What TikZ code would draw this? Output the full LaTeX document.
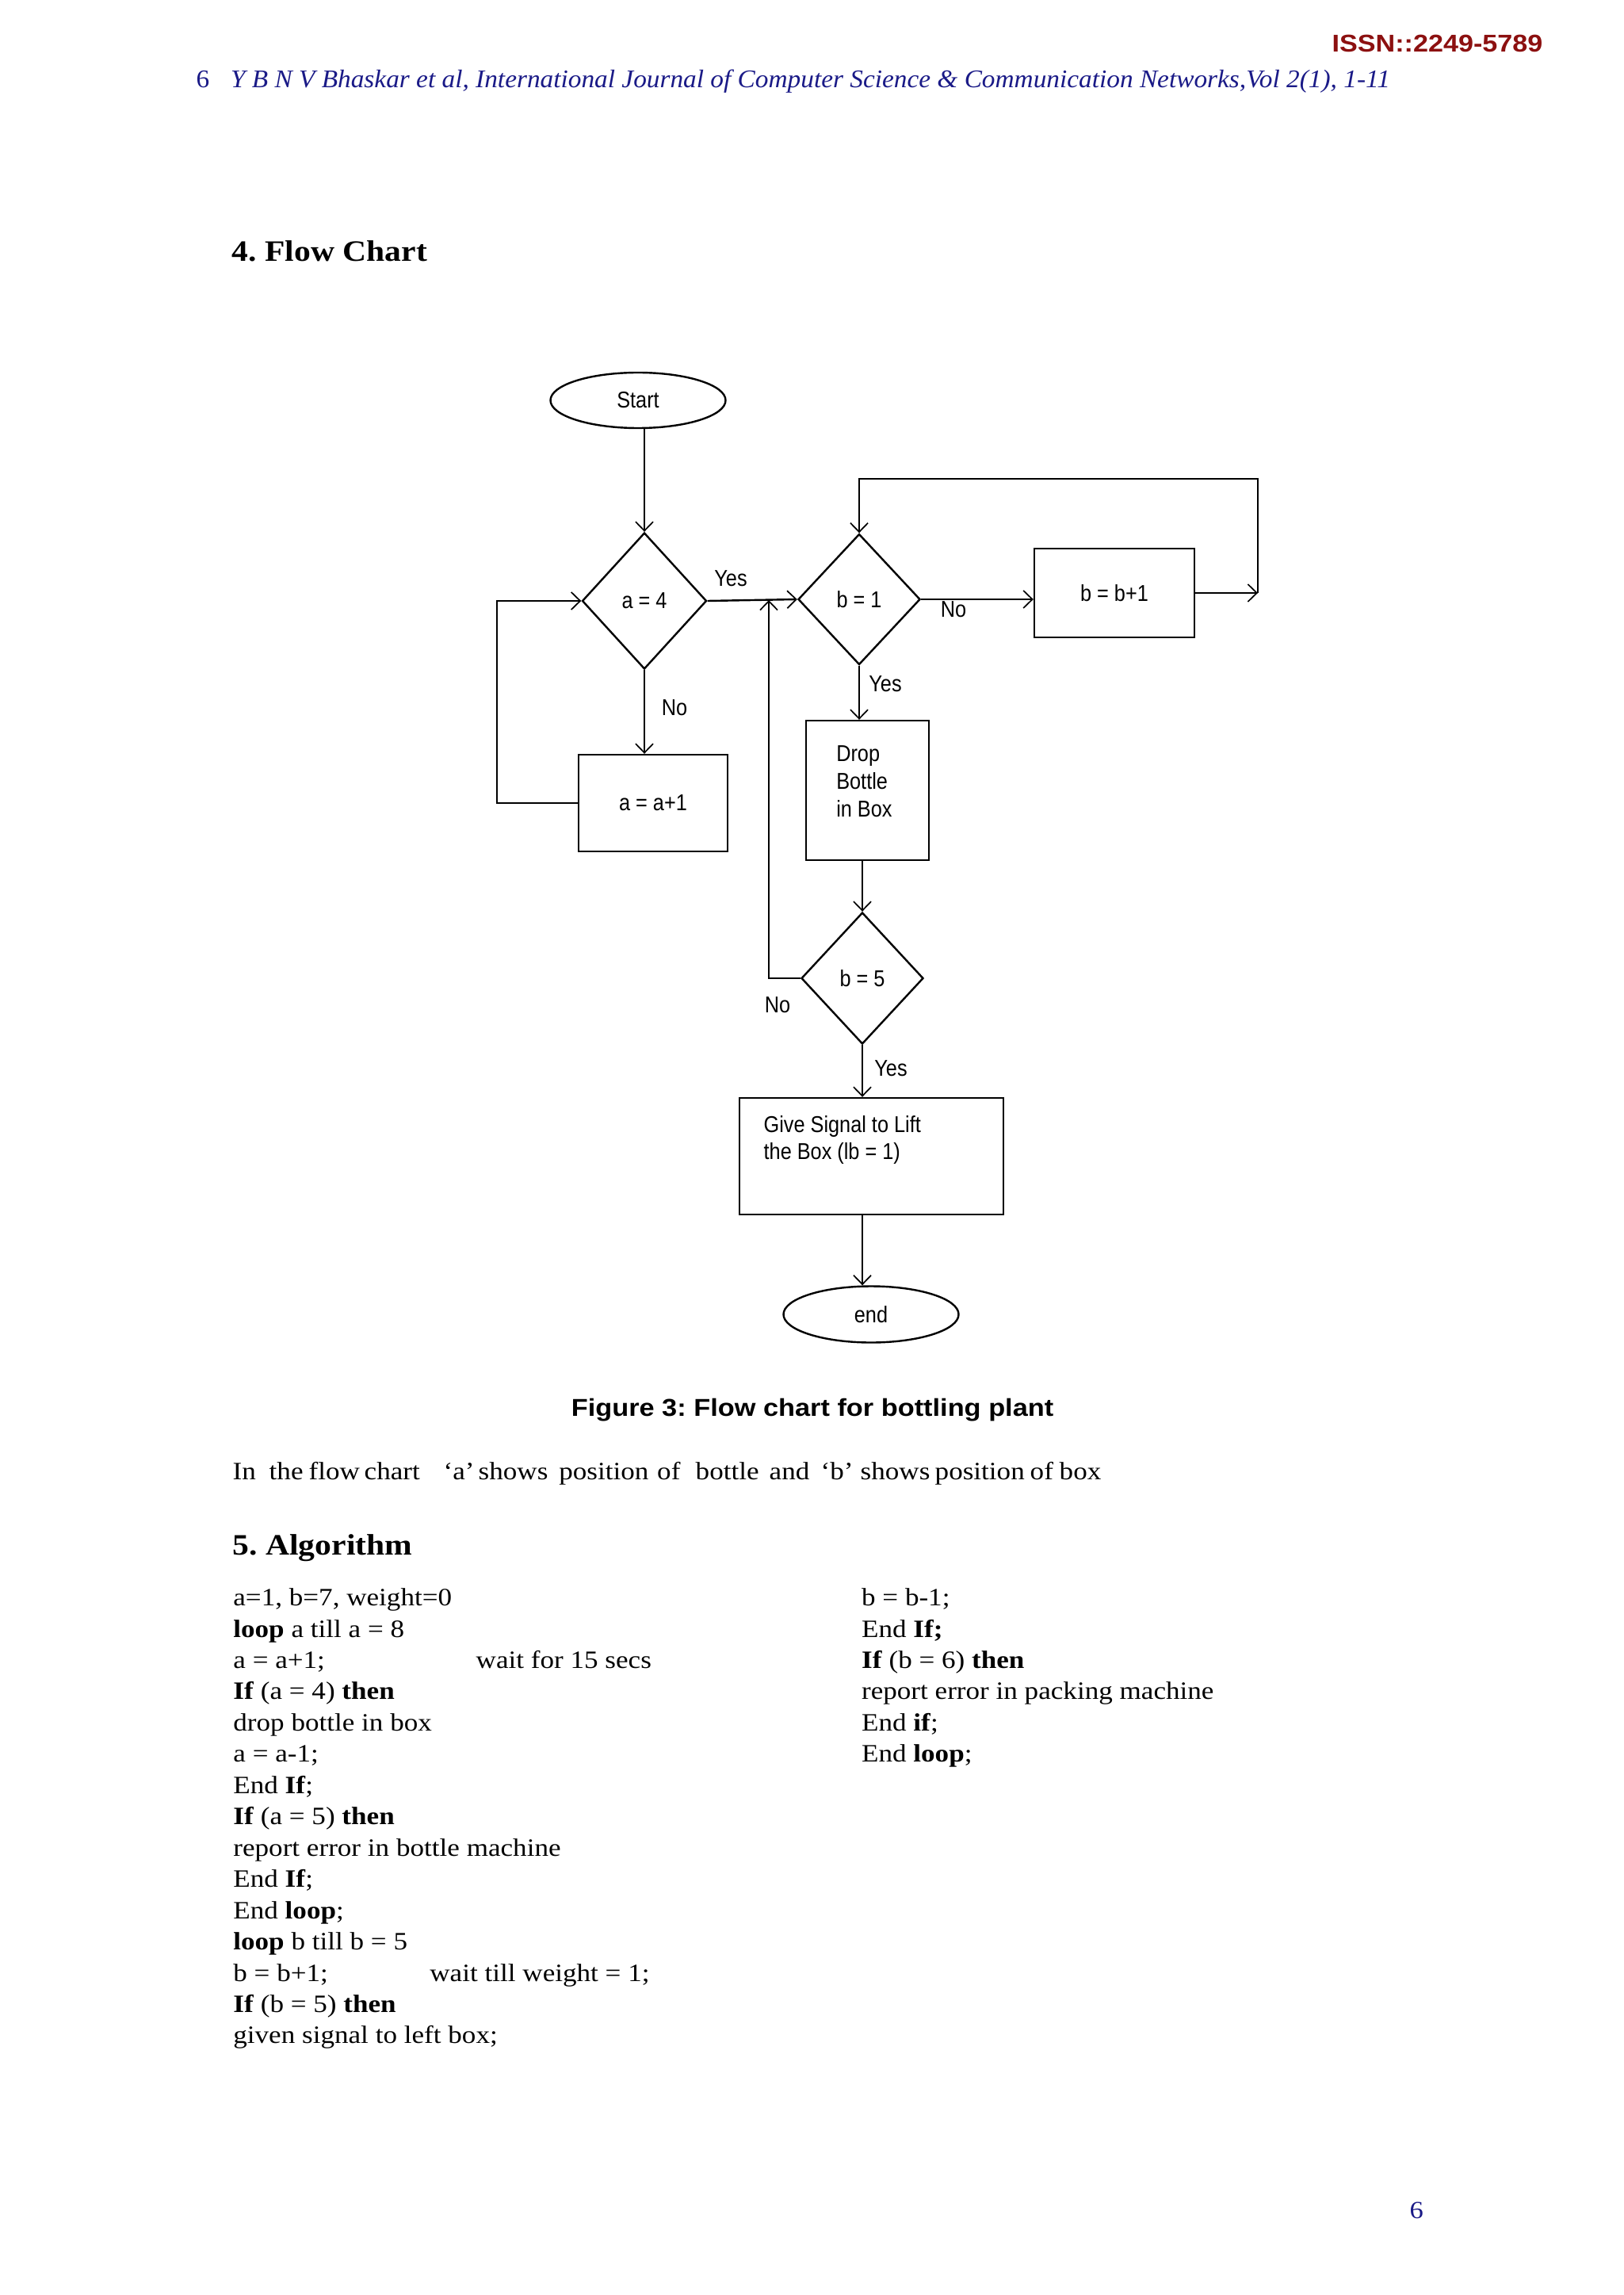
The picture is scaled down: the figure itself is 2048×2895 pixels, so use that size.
\documentclass[tikz,border=0pt]{standalone}
\usepackage{fontspec}
\setmainfont{Liberation Serif}
\setsansfont{Liberation Sans}
\usetikzlibrary{shapes.geometric,arrows.meta}
\definecolor{issnred}{RGB}{140,16,16}
\definecolor{navyblue}{RGB}{26,26,135}
\newcommand{\hs}[1]{\scalebox{1.115}[1]{#1}}
\newcommand{\fs}[1]{\scalebox{0.875}[1]{#1}}
\newcommand{\pu}{0.29068pt}
\frenchspacing
\begin{document}
\begin{tikzpicture}[x=0.29068pt, y=-0.29068pt,
  flow/.style={draw=black, line width=0.7pt, inner sep=0pt, font=\sffamily\fontsize{8.4}{10}\selectfont},
  boxn/.style={flow, rectangle},
  dia/.style={flow, diamond},
  ell/.style={flow, ellipse},
  arr/.style={line width=0.7pt, -{Straight Barb[length=3.3pt,width=6.4pt,line width=0.5pt]}},
  lbl/.style={inner sep=0pt, font=\sffamily\fontsize{8.4}{10}\selectfont},
  ftxt/.style={lbl, anchor=base west},
  body/.style={inner sep=0pt, anchor=base west, font=\fontsize{9.15}{11}\selectfont},
  head/.style={inner sep=0pt, anchor=base west, font=\bfseries\fontsize{10.85}{13}\selectfont},
]
\fill[white] (0,0) rectangle (2048,2895);
\useasboundingbox (0,0) rectangle (2048,2895);

% header
\node[anchor=base east, inner sep=0pt, text=issnred, font=\sffamily\bfseries\fontsize{8.9}{10}\selectfont] (issn) at (1947,66) {\hs{ISSN::2249-5789}};
\node[anchor=base west, inner sep=0pt, text=navyblue, font=\fontsize{9.3}{11}\selectfont] (hdr) at (247,111)
  {\resizebox{437.8pt}{\height}{6\hspace{0.8em}\itshape Y B N V Bhaskar et al, International Journal of Computer Science \& Communication Networks,Vol 2(1), 1-11}};

\node[head] (h4) at (292,330) {\hs{4. Flow Chart}};

% flow chart
\node[ell, minimum width=221*\pu, minimum height=70*\pu] (start) at (805,505) {\fs{Start}};
\node[dia, minimum width=157*\pu, minimum height=172*\pu] (d1) at (813,758) {\fs{a = 4}};
\node[boxn, minimum width=188*\pu, minimum height=122*\pu] (aa) at (824,1013) {\fs{a = a+1}};
\node[dia, minimum width=154*\pu, minimum height=165*\pu] (d2) at (1084,756) {\fs{b = 1}};
\node[boxn, minimum width=202*\pu, minimum height=112*\pu] (bb) at (1406,748) {\fs{b = b+1}};
\node[boxn, minimum width=155*\pu, minimum height=176*\pu] (drop) at (1094.5,997) {};
\node[ftxt] (dropa) at (1054.6,960) {\fs{Drop}};
\node[ftxt] (dropb) at (1054.6,995) {\fs{Bottle}};
\node[ftxt] (dropc) at (1054.6,1030) {\fs{in Box}};
\node[dia, minimum width=154*\pu, minimum height=166*\pu] (d3) at (1088,1234) {\fs{b = 5}};
\node[boxn, minimum width=333*\pu, minimum height=147*\pu] (sig) at (1099.5,1458.5) {};
\node[ftxt] (siga) at (963,1428) {\fs{Give Signal to Lift}};
\node[ftxt] (sigb) at (963,1462) {\fs{the Box (lb = 1)}};
\node[ell, minimum width=221*\pu, minimum height=71*\pu] (stop) at (1099,1658) {\fs{end}};

\coordinate (rc) at (1587,604);
\coordinate (jn) at (970,757);

\draw[arr] (start.south -| d1.north) -- (d1.north);
\draw[arr] (d1.south) -- (d1.south |- aa.north);
\draw[arr] (aa.west) -- ++(-102,0) |- (d1.west);
\draw[arr] (d1.east) -- (d2.west);
\draw[arr] (d2.east) -- (d2.east -| bb.west);
\draw[arr] (bb.east) -- (bb.east -| rc);
\draw[arr] (bb.east -| rc) -- (rc) -| (d2.north);
\draw[arr] (d2.south) -- (d2.south |- drop.north);
\draw[arr] (d3.north |- drop.south) -- (d3.north);
\draw[arr] (d3.west) -| (jn);
\draw[arr] (d3.south) -- (d3.south |- sig.north);
\draw[arr] (d3.south |- sig.south) -- (d3.south |- stop.north);

\node[lbl] (y1) at (922,730) {\fs{Yes}};
\node[lbl] (n1) at (851,893) {\fs{No}};
\node[lbl] (n2) at (1203,769) {\fs{No}};
\node[lbl] (y2) at (1117,863) {\fs{Yes}};
\node[lbl] (n3) at (981,1268) {\fs{No}};
\node[lbl] (y3) at (1124,1348) {\fs{Yes}};

% caption and text
\node[anchor=base, inner sep=0pt, font=\sffamily\bfseries\fontsize{8.95}{11}\selectfont] (cap) at (1025,1786) {\hs{Figure 3: Flow chart for bottling plant}};
\foreach \x/\w [count=\k] in {293/In, 339/the, 389/flow, 459/chart, 559/{‘a’}, 603/shows, 704.6/position, 828.5/of, 877/bottle, 970/and, 1035/{‘b’}, 1085/shows, 1179/position, 1299/of, 1336/box}
  \node[body] (w\k) at (\x,1866) {\hs{\w}};

\node[head] (h5) at (293,1961) {\hs{5. Algorithm}};

\node[body] (l1) at (293.7,2025.5) {\hs{a=1, b=7, weight=0}};
\node[body] (l2) at (293.7,2065.0) {\hs{\textbf{loop} a till a = 8}};
\node[body] (l3) at (293.7,2104.4) {\hs{a = a+1;}};
\node[body] (l3b) at (600,2104.4) {\hs{wait for 15 secs}};
\node[body] (l4) at (293.7,2143.9) {\hs{\textbf{If} (a = 4) \textbf{then}}};
\node[body] (l5) at (293.7,2183.3) {\hs{drop bottle in box}};
\node[body] (l6) at (293.7,2222.8) {\hs{a = a-1;}};
\node[body] (l7) at (293.7,2262.3) {\hs{End \textbf{If};}};
\node[body] (l8) at (293.7,2301.7) {\hs{\textbf{If} (a = 5) \textbf{then}}};
\node[body] (l9) at (293.7,2341.2) {\hs{report error in bottle machine}};
\node[body] (l10) at (293.7,2380.6) {\hs{End \textbf{If};}};
\node[body] (l11) at (293.7,2420.1) {\hs{End \textbf{loop};}};
\node[body] (l12) at (293.7,2459.6) {\hs{\textbf{loop} b till b = 5}};
\node[body] (l13) at (293.7,2499.0) {\hs{b = b+1;}};
\node[body] (l13b) at (541.7,2499.0) {\hs{wait till weight = 1;}};
\node[body] (l14) at (293.7,2538.5) {\hs{\textbf{If} (b = 5) \textbf{then}}};
\node[body] (l15) at (293.7,2577.9) {\hs{given signal to left box;}};

\node[body] (r1) at (1086.4,2025.5) {\hs{b = b-1;}};
\node[body] (r2) at (1086.4,2065.0) {\hs{End \textbf{If;}}};
\node[body] (r3) at (1086.4,2104.4) {\hs{\textbf{If} (b = 6) \textbf{then}}};
\node[body] (r4) at (1086.4,2143.9) {\hs{report error in packing machine}};
\node[body] (r5) at (1086.4,2183.3) {\hs{End \textbf{if};}};
\node[body] (r6) at (1086.4,2222.8) {\hs{End \textbf{loop};}};

\node[anchor=base west, inner sep=0pt, text=navyblue, font=\fontsize{9}{11}\selectfont] (pg) at (1778,2798) {\hs{6}};
\end{tikzpicture}
\end{document}
